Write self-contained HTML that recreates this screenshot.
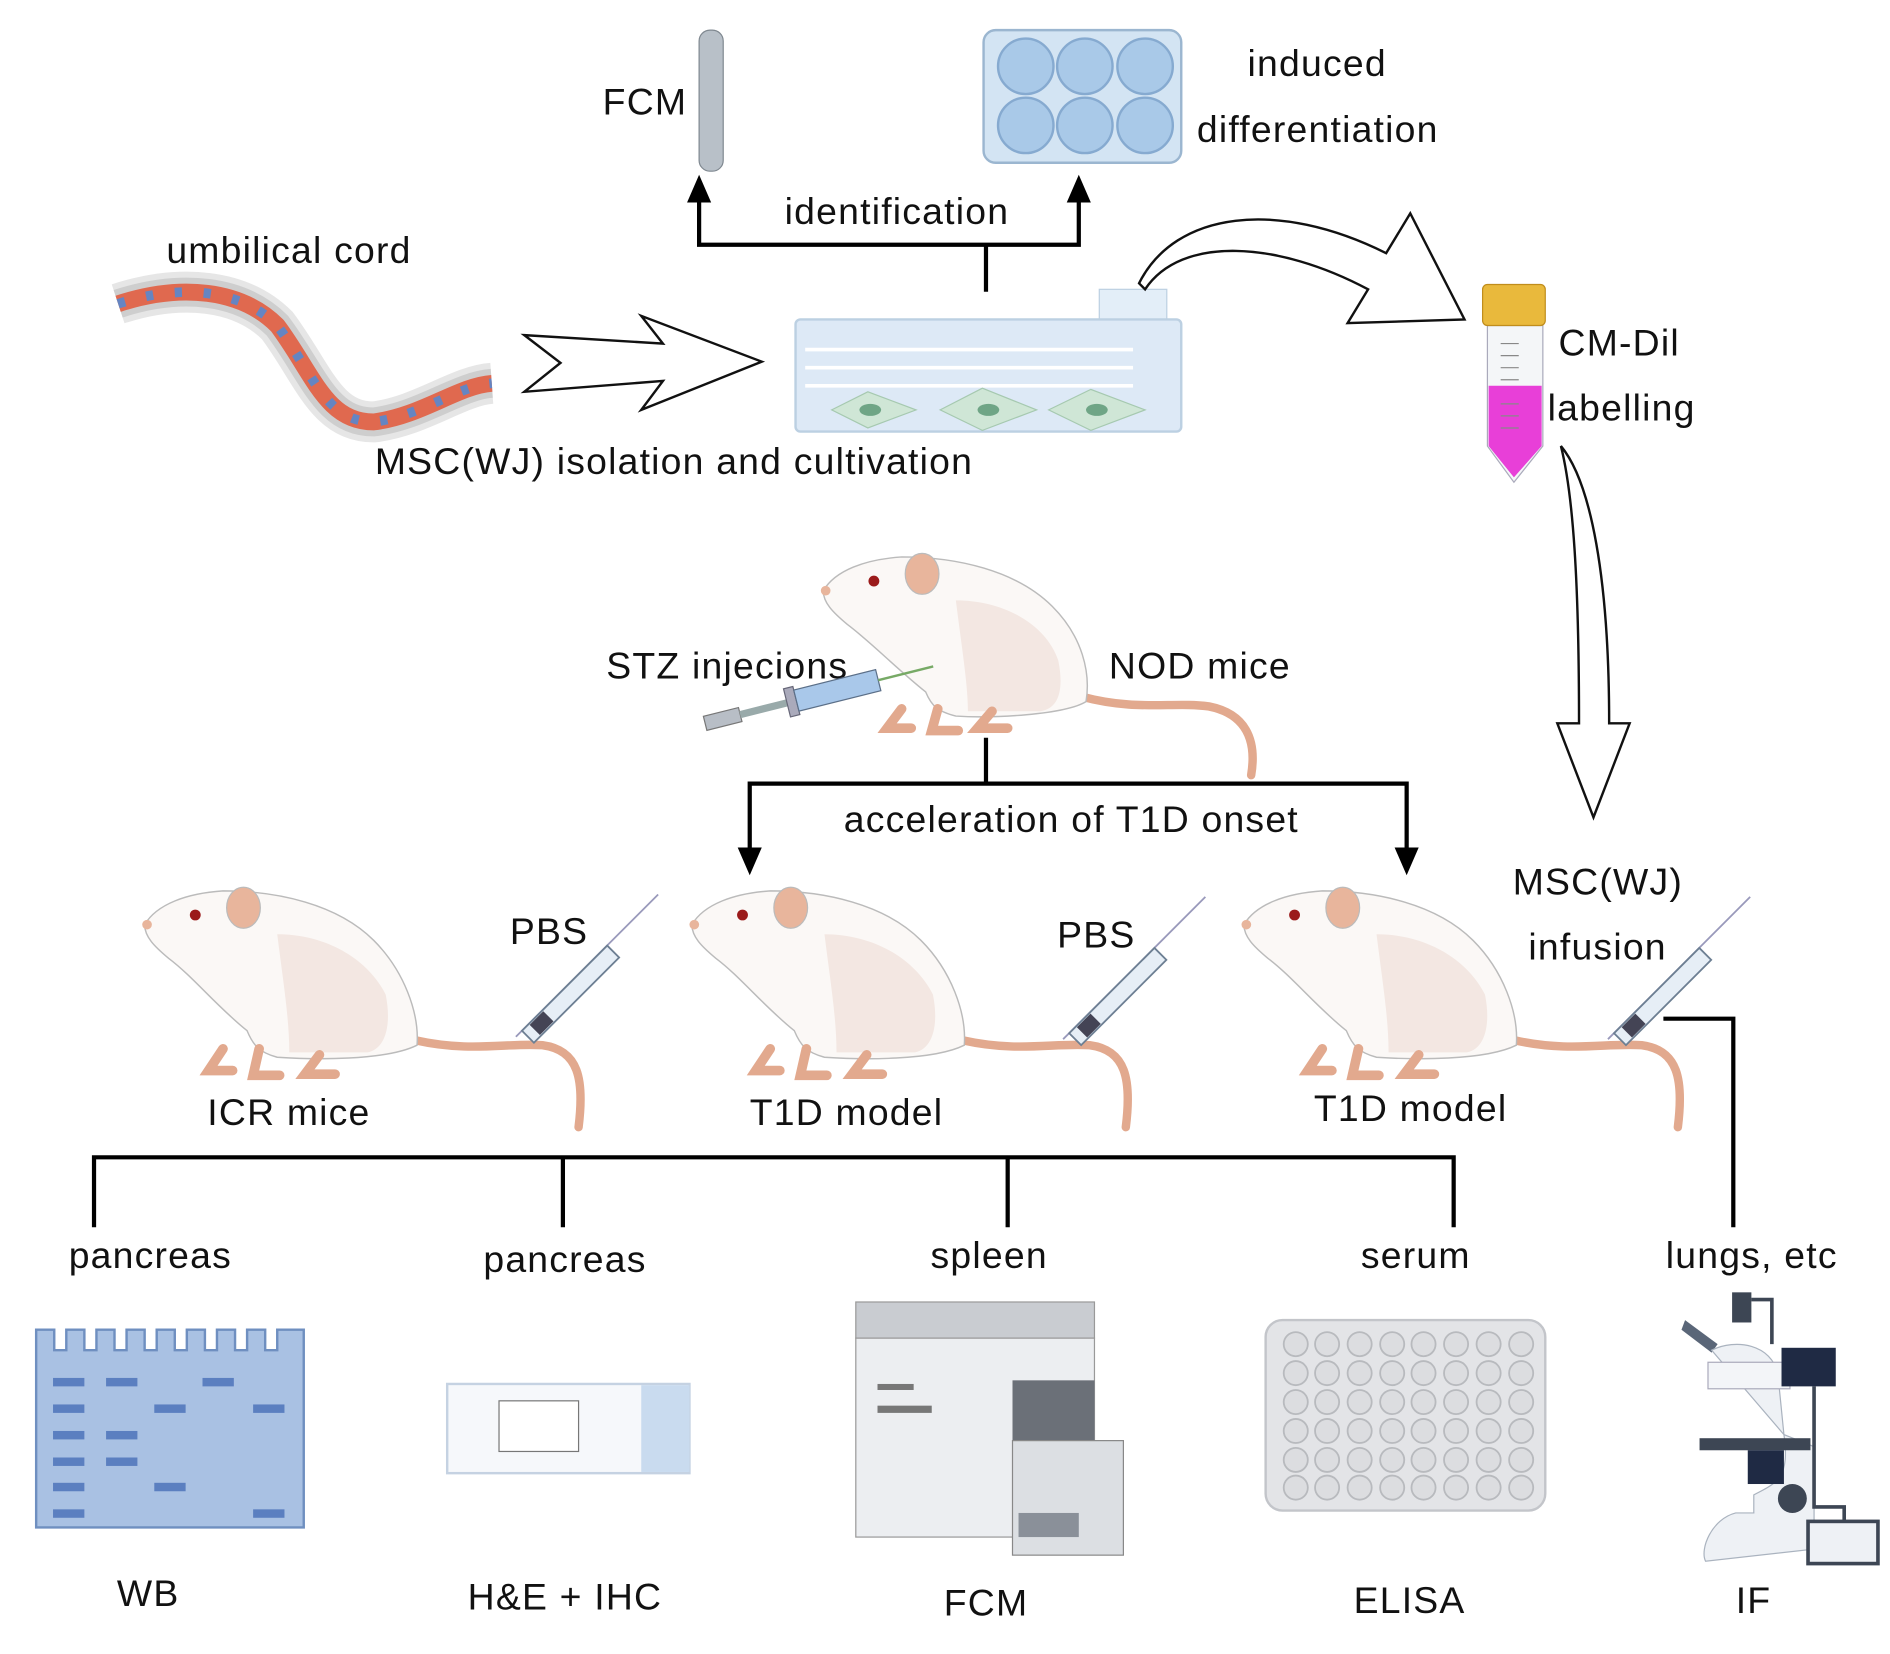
<!DOCTYPE html>
<html><head><meta charset="utf-8"><style>
html,body{margin:0;padding:0;background:#fff;}
svg{display:block;}
text{font-family:"Liberation Sans",sans-serif;font-size:31px;letter-spacing:1px;fill:#111;}
</style></head><body>
<svg width="1890" height="1654" viewBox="0 0 1568 1372" preserveAspectRatio="none" xmlns="http://www.w3.org/2000/svg">
<defs>
<g id="mouse">
 <path d="M225,108 C270,118 300,110 330,112 C360,116 365,140 360,180" fill="none" stroke="#e2a98e" stroke-width="7" stroke-linecap="round"/>
 <path d="M0,12 C10,-5 35,-14 65,-16 C110,-16 160,-5 190,25 C215,50 228,85 226,112 C200,125 140,124 110,122 C95,118 90,112 85,100 C60,80 40,55 20,40 C8,30 0,22 0,12 Z" fill="#fbf8f6" stroke="#bbb" stroke-width="1.2"/>
 <path d="M110,20 C150,20 185,40 200,70 C205,95 200,115 185,118 L120,118 C120,90 115,60 110,20Z" fill="#f3e7e2"/>
 <ellipse cx="82" cy="-2" rx="14" ry="17" fill="#e8b59c" stroke="#bbb"/>
 <circle cx="42" cy="4" r="4.5" fill="#9b1b1b"/>
 <circle cx="2" cy="12" r="4" fill="#e8b59c"/>
 <path d="M65,115 l-12,18 l20,0 M95,115 l-5,22 l22,0 M145,120 l-12,16 l25,0" stroke="#e2a98e" stroke-width="8" fill="none" stroke-linecap="round"/>
</g>
<g id="mouse2">
 <path d="M215,100 C260,112 290,104 320,108 C350,114 360,135 355,165" fill="none" stroke="#e2a98e" stroke-width="7" stroke-linecap="round"/>
 <path d="M0,12 C10,-5 35,-14 65,-16 C110,-16 160,-5 190,25 C215,50 222,80 218,104 C200,115 140,118 110,116 C95,112 90,108 85,96 C60,76 40,55 20,40 C8,30 0,22 0,12 Z" fill="#fbf8f6" stroke="#bbb" stroke-width="1.2"/>
 <path d="M110,20 C150,20 185,40 195,70 C200,95 195,110 180,112 L120,112 C120,90 115,60 110,20Z" fill="#f3e7e2"/>
 <ellipse cx="82" cy="-2" rx="14" ry="17" fill="#e8b59c" stroke="#bbb"/>
 <circle cx="42" cy="4" r="4.5" fill="#9b1b1b"/>
 <circle cx="2" cy="12" r="4" fill="#e8b59c"/>
 <path d="M65,110 l-12,16 l20,0 M95,110 l-5,18 l22,0 M140,112 l-12,14 l25,0" stroke="#e2a98e" stroke-width="8" fill="none" stroke-linecap="round"/>
</g>
<g id="syr">
 <line x1="0" y1="0" x2="118" y2="-118" stroke="#99b" stroke-width="1.5"/>
 <rect x="10" y="-7" width="100" height="14" fill="#e6eef6" stroke="#6d7f93" stroke-width="1.5" transform="rotate(-45 10 0)"/>
 <rect x="18" y="-6" width="16" height="12" fill="#445" transform="rotate(-45 10 0)"/>
</g>
</defs>

<rect x="580" y="25" width="20" height="117" rx="9" fill="#b8c0c8" stroke="#7f8890"/>
<text x="500" y="95">FCM</text>
<rect x="816" y="25" width="164" height="110" rx="10" fill="#d3e4f3" stroke="#9bb6d0" stroke-width="2"/>
<g fill="#a9c9e8" stroke="#86aad0" stroke-width="2">
<circle cx="851" cy="55" r="23"/><circle cx="900" cy="55" r="23"/><circle cx="950" cy="55" r="23"/>
<circle cx="851" cy="104" r="23"/><circle cx="900" cy="104" r="23"/><circle cx="950" cy="104" r="23"/></g>
<text x="1035" y="63">induced</text>
<text x="993" y="118">differentiation</text>
<path d="M580,165 V203 H895 V165 M818,203 V242" fill="none" stroke="#000" stroke-width="3.5"/>
<path d="M570,168 L580,145 L590,168Z M885,168 L895,145 L905,168Z" fill="#000"/>
<text x="651" y="186">identification</text>
<path d="M98,252 C150,235 200,240 230,270 C260,310 270,350 310,350 C350,345 380,320 408,318" fill="none" stroke="#e6e6e6" stroke-width="34"/>
<path d="M98,252 C150,235 200,240 230,270 C260,310 270,350 310,350 C350,345 380,320 408,318" fill="none" stroke="#999" stroke-width="24" opacity=".3"/>
<path d="M98,252 C150,235 200,240 230,270 C260,310 270,350 310,350 C350,345 380,320 408,318" fill="none" stroke="#e0694f" stroke-width="14"/>
<path d="M98,252 C150,235 200,240 230,270 C260,310 270,350 310,350 C350,345 380,320 408,318" fill="none" stroke="#6585c2" stroke-width="8" stroke-dasharray="6 18"/>
<text x="138" y="218">umbilical cord</text>
<polygon points="435,278 550,285 532,262 632,300 532,340 550,316 435,325 465,301" fill="#fff" stroke="#111" stroke-width="2"/>
<rect x="912" y="240" width="56" height="28" fill="#e3eef8" stroke="#bcd0e2"/>
<rect x="660" y="265" width="320" height="93" rx="4" fill="#dde9f6" stroke="#bcd0e2" stroke-width="2"/>
<path d="M668,290 H940 M668,305 H940 M668,320 H940" stroke="#fff" stroke-width="3"/>
<g fill="#cfe6d6" stroke="#a6c9b0">
<path d="M690,340 L720,325 L760,340 L720,355Z"/><path d="M780,340 L815,322 L860,340 L815,357Z"/><path d="M870,340 L905,323 L950,340 L905,357Z"/></g>
<g fill="#6fa586"><ellipse cx="722" cy="340" rx="9" ry="5"/><ellipse cx="820" cy="340" rx="9" ry="5"/><ellipse cx="910" cy="340" rx="9" ry="5"/></g>
<text x="311" y="393">MSC(WJ) isolation and cultivation</text>
<path d="M945,235 C975,175 1060,165 1150,210 L1170,177 L1215,265 L1118,268 L1135,240 C1060,200 980,195 950,240 Z" fill="#fff" stroke="#111" stroke-width="2"/>
<path d="M1234,270 H1280 V370 L1256,400 L1234,370Z" fill="#f4f6f8" stroke="#aab"/>
<path d="M1235,320 H1279 V370 L1256,396 L1235,370Z" fill="#e83fd8"/>
<rect x="1230" y="236" width="52" height="34" rx="4" fill="#e9b93c" stroke="#c08d1c"/>
<g stroke="#888" stroke-width="1"><path d="M1245,285 h15 M1245,295 h15 M1245,305 h15 M1245,315 h15 M1245,335 h15 M1245,345 h15 M1245,355 h15"/></g>
<text x="1293" y="295">CM-Dil</text>
<text x="1284" y="349">labelling</text>
<path d="M1295,370 C1320,400 1335,480 1335,600 L1352,600 L1322,678 L1292,600 L1310,600 C1310,480 1305,410 1295,370Z" fill="#fff" stroke="#111" stroke-width="2"/>
<!-- NOD mouse -->
<use href="#mouse2" transform="translate(683,478)"/>
<text x="503" y="563">STZ injecions</text>
<text x="920" y="563">NOD mice</text>
<g transform="translate(585,600) rotate(-14)">
<rect x="0" y="-6" width="30" height="12" fill="#b8bec6" stroke="#777"/>
<rect x="30" y="-3" width="40" height="6" fill="#9aa"/>
<rect x="70" y="-12" width="8" height="24" fill="#aab" stroke="#667"/>
<rect x="78" y="-9" width="70" height="18" fill="#a9c8ea" stroke="#5b6f88"/>
<line x1="148" y1="0" x2="195" y2="0" stroke="#7a6" stroke-width="2"/></g>
<path d="M818,612 V650 H622 V705 M818,650 H1167 V705" fill="none" stroke="#000" stroke-width="3.5"/>
<path d="M612,703 L622,726 L632,703Z M1157,703 L1167,726 L1177,703Z" fill="#000"/>
<text x="700" y="690">acceleration of T1D onset</text>
<use href="#mouse" transform="translate(120,755)"/>
<use href="#mouse" transform="translate(574,755)"/>
<use href="#mouse" transform="translate(1032,755)"/>
<use href="#syr" transform="translate(428,860)"/>
<use href="#syr" transform="translate(882,862)"/>
<use href="#syr" transform="translate(1334,862)"/>
<text x="423" y="783">PBS</text>
<text x="877" y="786">PBS</text>
<text x="1255" y="742">MSC(WJ)</text>
<text x="1268" y="796">infusion</text>
<text x="172" y="933">ICR mice</text>
<text x="622" y="933">T1D model</text>
<text x="1090" y="930">T1D model</text>
<path d="M1380,845 H1438 V1018 M78,1018 V960 H1206 V1018 M467,960 V1018 M836,960 V1018" fill="none" stroke="#000" stroke-width="3.5"/>
<text x="57" y="1052">pancreas</text>
<text x="401" y="1055">pancreas</text>
<text x="772" y="1052">spleen</text>
<text x="1129" y="1052">serum</text>
<text x="1382" y="1052">lungs, etc</text>
<path d="M30,1103 H45 V1120 H55 V1103 H70 V1120 H80 V1103 H95 V1120 H105 V1103 H120 V1120 H130 V1103 H145 V1120 H155 V1103 H170 V1120 H180 V1103 H195 V1120 H205 V1103 H220 V1120 H230 V1103 H252 V1267 H30Z" fill="#a9c1e3" stroke="#6f8fc0" stroke-width="2"/>
<g fill="#5b7fc0"><rect x="44" y="1143" width="26" height="7"/><rect x="88" y="1143" width="26" height="7"/><rect x="168" y="1143" width="26" height="7"/><rect x="44" y="1165" width="26" height="7"/><rect x="128" y="1165" width="26" height="7"/><rect x="210" y="1165" width="26" height="7"/><rect x="44" y="1187" width="26" height="7"/><rect x="88" y="1187" width="26" height="7"/><rect x="44" y="1209" width="26" height="7"/><rect x="88" y="1209" width="26" height="7"/><rect x="44" y="1230" width="26" height="7"/><rect x="128" y="1230" width="26" height="7"/><rect x="44" y="1252" width="26" height="7"/><rect x="210" y="1252" width="26" height="7"/></g>
<rect x="371" y="1148" width="201" height="74" fill="#f6f8fb" stroke="#c5d2e2" stroke-width="2"/>
<rect x="532" y="1149" width="40" height="72" fill="#c9dbef"/>
<rect x="414" y="1162" width="66" height="42" fill="#fff" stroke="#777"/>
<rect x="710" y="1080" width="198" height="30" fill="#c9ccd1" stroke="#999"/>
<rect x="710" y="1110" width="198" height="165" fill="#eceef1" stroke="#999"/>
<rect x="840" y="1145" width="68" height="50" fill="#6b7078"/>
<rect x="840" y="1195" width="92" height="95" fill="#dcdfe3" stroke="#888"/>
<rect x="845" y="1255" width="50" height="20" fill="#8a9099"/>
<rect x="728" y="1148" width="30" height="5" fill="#777"/><rect x="728" y="1166" width="45" height="6" fill="#777"/>
<rect x="1050" y="1095" width="232" height="158" rx="14" fill="#e3e4e7" stroke="#c3c5ca" stroke-width="2"/>
<g fill="#dcdde0" stroke="#b8babe" stroke-width="1.5">
<circle cx="1075" cy="1115" r="10"/><circle cx="1101" cy="1115" r="10"/><circle cx="1128" cy="1115" r="10"/><circle cx="1155" cy="1115" r="10"/><circle cx="1181" cy="1115" r="10"/><circle cx="1208" cy="1115" r="10"/><circle cx="1235" cy="1115" r="10"/><circle cx="1262" cy="1115" r="10"/>
<circle cx="1075" cy="1139" r="10"/><circle cx="1101" cy="1139" r="10"/><circle cx="1128" cy="1139" r="10"/><circle cx="1155" cy="1139" r="10"/><circle cx="1181" cy="1139" r="10"/><circle cx="1208" cy="1139" r="10"/><circle cx="1235" cy="1139" r="10"/><circle cx="1262" cy="1139" r="10"/>
<circle cx="1075" cy="1163" r="10"/><circle cx="1101" cy="1163" r="10"/><circle cx="1128" cy="1163" r="10"/><circle cx="1155" cy="1163" r="10"/><circle cx="1181" cy="1163" r="10"/><circle cx="1208" cy="1163" r="10"/><circle cx="1235" cy="1163" r="10"/><circle cx="1262" cy="1163" r="10"/>
<circle cx="1075" cy="1187" r="10"/><circle cx="1101" cy="1187" r="10"/><circle cx="1128" cy="1187" r="10"/><circle cx="1155" cy="1187" r="10"/><circle cx="1181" cy="1187" r="10"/><circle cx="1208" cy="1187" r="10"/><circle cx="1235" cy="1187" r="10"/><circle cx="1262" cy="1187" r="10"/>
<circle cx="1075" cy="1211" r="10"/><circle cx="1101" cy="1211" r="10"/><circle cx="1128" cy="1211" r="10"/><circle cx="1155" cy="1211" r="10"/><circle cx="1181" cy="1211" r="10"/><circle cx="1208" cy="1211" r="10"/><circle cx="1235" cy="1211" r="10"/><circle cx="1262" cy="1211" r="10"/>
<circle cx="1075" cy="1234" r="10"/><circle cx="1101" cy="1234" r="10"/><circle cx="1128" cy="1234" r="10"/><circle cx="1155" cy="1234" r="10"/><circle cx="1181" cy="1234" r="10"/><circle cx="1208" cy="1234" r="10"/><circle cx="1235" cy="1234" r="10"/><circle cx="1262" cy="1234" r="10"/></g>
<rect x="1437" y="1072" width="16" height="25" fill="#3d4654"/>
<path d="M1453,1078 H1470 V1115" fill="none" stroke="#3d4654" stroke-width="3"/>
<path d="M1398,1095 L1425,1115 L1420,1122 L1395,1103Z" fill="#5a6678"/>
<path d="M1420,1120 C1440,1110 1470,1115 1475,1140 L1480,1190 L1505,1200 L1505,1285 L1415,1295 C1410,1285 1420,1260 1440,1255 L1455,1255 L1455,1240 C1475,1230 1485,1225 1480,1190Z" fill="#eef1f5" stroke="#aab3bf"/>
<rect x="1417" y="1130" width="68" height="22" fill="#f3f5f8" stroke="#aab"/>
<rect x="1410" y="1193" width="92" height="10" fill="#3d4654"/>
<rect x="1450" y="1203" width="30" height="28" fill="#1f2a44"/>
<rect x="1478" y="1118" width="45" height="32" fill="#1f2a44"/>
<path d="M1505,1150 V1250 H1530 V1262" fill="none" stroke="#3d4654" stroke-width="3"/>
<rect x="1500" y="1262" width="58" height="35" fill="#eef1f5" stroke="#3d4654" stroke-width="3"/>
<circle cx="1487" cy="1243" r="12" fill="#3d4654"/>
<text x="97" y="1332">WB</text>
<text x="388" y="1335">H&amp;E + IHC</text>
<text x="783" y="1340">FCM</text>
<text x="1123" y="1338">ELISA</text>
<text x="1440" y="1338">IF</text>
</svg>
</body></html>
